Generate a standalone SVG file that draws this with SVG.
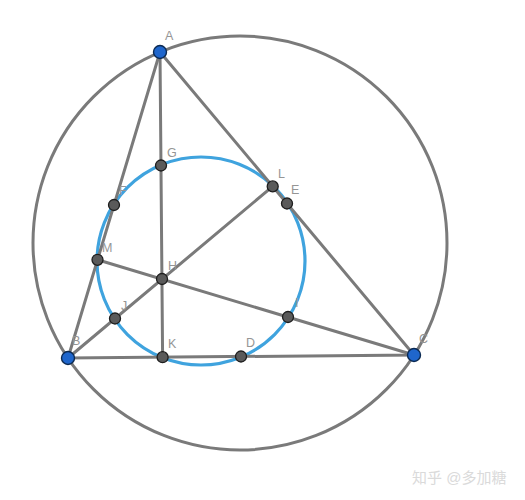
<svg xmlns="http://www.w3.org/2000/svg" width="525" height="500" viewBox="0 0 525 500">
<style>
.ln{stroke:#7a7a7a;stroke-width:3;fill:none;stroke-linecap:round}
.np{stroke:#3fa3de;stroke-width:3.2;fill:none}
.pt{fill:#5a5a5a;stroke:#1e1e1e;stroke-width:1.3}
.vx{fill:#1f66cc;stroke:#0c2a52;stroke-width:1.4}
.lb{font-family:"Liberation Sans",Arial,sans-serif;font-size:12.5px;fill:#959595}
.wm{font-family:"Liberation Sans","Noto Sans CJK SC",sans-serif;font-size:15px;fill:#dadada}
</style>
<rect width="525" height="500" fill="#ffffff"/>
<g id="connectors">
<circle class="ln" cx="240" cy="243" r="207"/>
<circle class="np" cx="201" cy="261" r="104"/>
<polyline class="ln" points="160,52 68,358 414,355 160,52"/>
<line class="ln" x1="160" y1="52" x2="162.6" y2="357.2"/>
<line class="ln" x1="68" y1="358" x2="272.7" y2="186.4"/>
<line class="ln" x1="414" y1="355" x2="97.5" y2="259.8"/>
</g>
<g id="D"><circle class="pt" cx="241" cy="356.5" r="5.5"/><text class="lb" x="246" y="347">D</text></g>
<g id="E"><circle class="pt" cx="287" cy="203.5" r="5.5"/><text class="lb" x="291" y="194">E</text></g>
<g id="F"><circle class="pt" cx="114" cy="205" r="5.5"/><text class="lb" x="119" y="195">F</text></g>
<g id="G"><circle class="pt" cx="161" cy="165.5" r="5.5"/><text class="lb" x="167" y="157">G</text></g>
<g id="H"><circle class="pt" cx="162" cy="279" r="5.5"/><text class="lb" x="168" y="270">H</text></g>
<g id="I"><circle class="pt" cx="288" cy="317" r="5.5"/><text class="lb" x="295" y="307">I</text></g>
<g id="J"><circle class="pt" cx="115" cy="318.5" r="5.5"/><text class="lb" x="121" y="310">J</text></g>
<g id="K"><circle class="pt" cx="162.6" cy="357.2" r="5.5"/><text class="lb" x="168" y="348">K</text></g>
<g id="L"><circle class="pt" cx="272.7" cy="186.4" r="5.5"/><text class="lb" x="278" y="178">L</text></g>
<g id="M"><circle class="pt" cx="97.5" cy="259.8" r="5.5"/><text class="lb" x="102" y="252">M</text></g>
<g id="A"><circle class="vx" cx="160" cy="52" r="6.5"/><text class="lb" x="165" y="40">A</text></g>
<g id="B"><circle class="vx" cx="68" cy="358" r="6.5"/><text class="lb" x="72" y="345">B</text></g>
<g id="C"><circle class="vx" cx="414" cy="355" r="6.5"/><text class="lb" x="419" y="343">C</text></g>
<text class="wm" x="412" y="483">知乎 @多加糖</text>
</svg>
